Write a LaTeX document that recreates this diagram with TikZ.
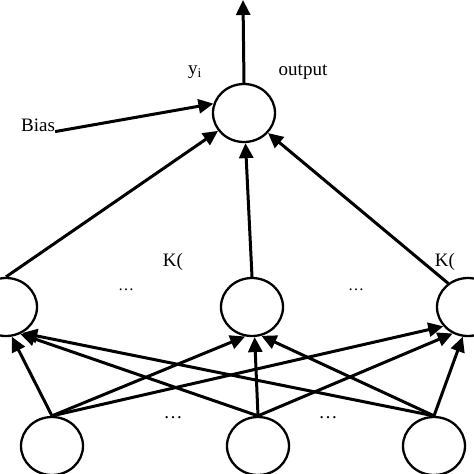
\documentclass[tikz,border=0pt]{standalone}
\usepackage{fontspec}
\setmainfont{Liberation Serif}
\usetikzlibrary{arrows.meta,shapes.geometric}
\begin{document}
\begin{tikzpicture}[x=1pt,y=-1pt,
  unit/.style={ellipse, draw, line width=2.3pt, minimum width=62pt, minimum height=58pt, inner sep=0pt},
  link/.style={line width=3pt, -{Triangle[length=15pt,width=14pt]}},
  lbl/.style={inner sep=0pt, font=\fontsize{19}{22}\selectfont}]
\useasboundingbox (0,0) rectangle (474,474);
\clip (0,0) rectangle (474,474);
% output unit
\node[unit] (out) at (244,113){};
\coordinate (top) at (243,0);
\draw[link](out.north) -- (top);
\node[lbl] (yi) at (195,72){y\textsubscript{i}};
\node[lbl] (outlbl) at (303,72){output};
\node[lbl] (bias) at (38,125){Bias};
\draw[link](bias.south east) -- (out.163);
% hidden units
\node[unit] (hid0) at (6,307){};
\node[unit] (hid1) at (252,307){};
\node[unit] (hid2) at (468,307){};
\draw[link](hid0.north) -- (out);
\draw[link](hid1.north) -- (out);
\draw[link](hid2.130) -- (out);
\node[lbl] (k1) at (173,262){K(};
\node[lbl] (k2) at (445,262){K(};
\node[lbl, font=\fontsize{16}{18}\selectfont] (hdots1) at (126,290){\ldots};
\node[lbl, font=\fontsize{16}{18}\selectfont] (hdots2) at (356,290){\ldots};
% input units
\node[unit] (in0) at (52,446){};
\node[unit] (in1) at (258,446){};
\node[unit] (in2) at (434,446){};
\node[lbl] (idots1) at (173,418){\ldots};
\node[lbl] (idots2) at (328,418){\ldots};
\draw[link](in0.north) -- (hid0.-79);
\draw[link](in1.north) -- (hid0.-62);
\draw[link](in2.north) -- (hid0.-58);
\draw[link](in0.north) -- (hid1.-103);
\draw[link](in1.north) -- (hid1.-85);
\draw[link](in2.north) -- (hid1.-72);
\draw[link](in0.north) -- (hid2.-142);
\draw[link](in1.north) -- (hid2.-120);
\draw[link](in2.north) -- (hid2.-100);
\end{tikzpicture}
\end{document}
